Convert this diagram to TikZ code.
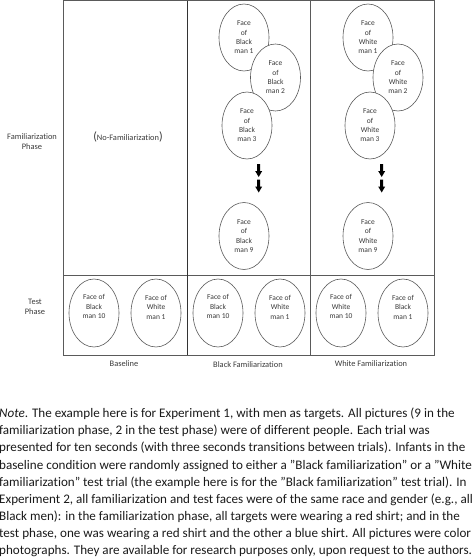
\documentclass[tikz,border=0pt]{standalone}
\usepackage{fontspec}
\setmainfont{Carlito}[Ligatures={NoCommon}]
\usetikzlibrary{shapes.geometric}
\definecolor{linegray}{HTML}{5A5A5A}
\definecolor{darkline}{HTML}{333333}
\definecolor{txtgray}{HTML}{3A3A3A}
\definecolor{notetxt}{HTML}{1A1A1A}
\begin{document}
\begin{tikzpicture}[x=1pt,y=-1pt,
  face/.style={ellipse, draw=linegray, fill=white, line width=0.6pt,
    minimum width=50pt, minimum height=67pt, inner sep=0pt, align=center,
    font=\fontsize{7.5}{9.4}\selectfont, text=txtgray},
  tface/.style={face, minimum height=68pt},
  lbl/.style={align=center, inner sep=0pt, font=\fontsize{8.4}{10}\selectfont, text=txtgray},
  noteline/.style={anchor=base west, inner sep=0pt, font=\fontsize{13.1}{17}\selectfont, text=notetxt},
  frame/.style={draw=linegray, line width=0.8pt},
  barrow/.pic={\fill[black] (-1.5,0) -- (1.5,0) -- (1.5,7) -- (3.5,7) -- (0,13) -- (-3.5,7) -- (-1.5,7) -- cycle;}
]
\useasboundingbox (0,0) rectangle (474,557);
\clip (0,0) rectangle (474,557);

% frame
\draw[frame] (63,0.5) rectangle (434,355);
\draw[frame] (310,0.5) -- (310,355);
\draw[frame] (63,275) -- (434,275);
\draw[draw=darkline, line width=1pt] (187,0.5) -- (187,355);

% row and column labels
\node[lbl] (famlbl) at (32,142) {Familiarization\\Phase};
\node[lbl] (testlbl) at (35,307) {Test\\Phase};
\node[lbl] (nofam) at (128,137) {\fontsize{12}{12}\selectfont(\fontsize{8.4}{10}\selectfont No-Familiarization\fontsize{12}{12}\selectfont)};
\node[lbl] (colbase) at (124,364) {Baseline};
\node[lbl] (colblack) at (248,365) {Black Familiarization};
\node[lbl] (colwhite) at (371,364) {White Familiarization};

% Black familiarization
\node[face] (b1) at (244,37.5) {Face\\of\\Black\\man 1};
\node[face] (b2) at (275.5,77.5) {Face\\of\\Black\\man 2};
\node[face] (b3) at (247,125.5) {Face\\of\\Black\\man 3};
\pic at (258.7,164) {barrow};
\pic at (258.7,179.5) {barrow};
\node[face] (b9) at (244,236) {Face\\of\\Black\\man 9};

% White familiarization
\node[face] (w1) at (368,37.5) {Face\\of\\White\\man 1};
\node[face] (w2) at (398,77.5) {Face\\of\\White\\man 2};
\node[face] (w3) at (370,125.5) {Face\\of\\White\\man 3};
\pic at (381.7,164) {barrow};
\pic at (381.7,179.5) {barrow};
\node[face] (w9) at (368,236) {Face\\of\\White\\man 9};

% Test phase
\node[tface] (t1) at (94,313) {\raisebox{5.5pt}[\height][\depth]{\begin{tabular}{@{}c@{}}Face of\\Black\\man 10\end{tabular}}};
\node[tface] (t2) at (156,313) {\raisebox{5pt}[\height][\depth]{\begin{tabular}{@{}c@{}}Face of\\White\\man 1\end{tabular}}};
\node[tface] (t3) at (218,313) {\raisebox{5.5pt}[\height][\depth]{\begin{tabular}{@{}c@{}}Face of\\Black\\man 10\end{tabular}}};
\node[tface] (t4) at (280,313) {\raisebox{5pt}[\height][\depth]{\begin{tabular}{@{}c@{}}Face of\\White\\man 1\end{tabular}}};
\node[tface] (t5) at (341,313) {\raisebox{5.5pt}[\height][\depth]{\begin{tabular}{@{}c@{}}Face of\\White\\man 10\end{tabular}}};
\node[tface] (t6) at (403,313) {\raisebox{5pt}[\height][\depth]{\begin{tabular}{@{}c@{}}Face of\\Black\\man 1\end{tabular}}};

% Note
\node[noteline] (n1) at (-1,417.5) {\textit{Note}. The example here is for Experiment 1, with men as targets. All pictures (9 in the};
\node[noteline] (n2) at (-1,434.7) {familiarization phase, 2 in the test phase) were of different people. Each trial was};
\node[noteline] (n3) at (-1,451.8) {presented for ten seconds (with three seconds transitions between trials). Infants in the};
\node[noteline] (n4) at (-1,469.0) {baseline condition were randomly assigned to either a "Black familiarization" or a "White};
\node[noteline] (n5) at (-1,486.2) {familiarization" test trial (the example here is for the "Black familiarization" test trial). In};
\node[noteline] (n6) at (-1,503.4) {Experiment 2, all familiarization and test faces were of the same race and gender (e.g., all};
\node[noteline] (n7) at (-1,520.5) {Black men): in the familiarization phase, all targets were wearing a red shirt; and in the};
\node[noteline] (n8) at (-1,537.7) {test phase, one was wearing a red shirt and the other a blue shirt. All pictures were color};
\node[noteline] (n9) at (-1,554.9) {photographs. They are available for research purposes only, upon request to the authors.};
\end{tikzpicture}
\end{document}
